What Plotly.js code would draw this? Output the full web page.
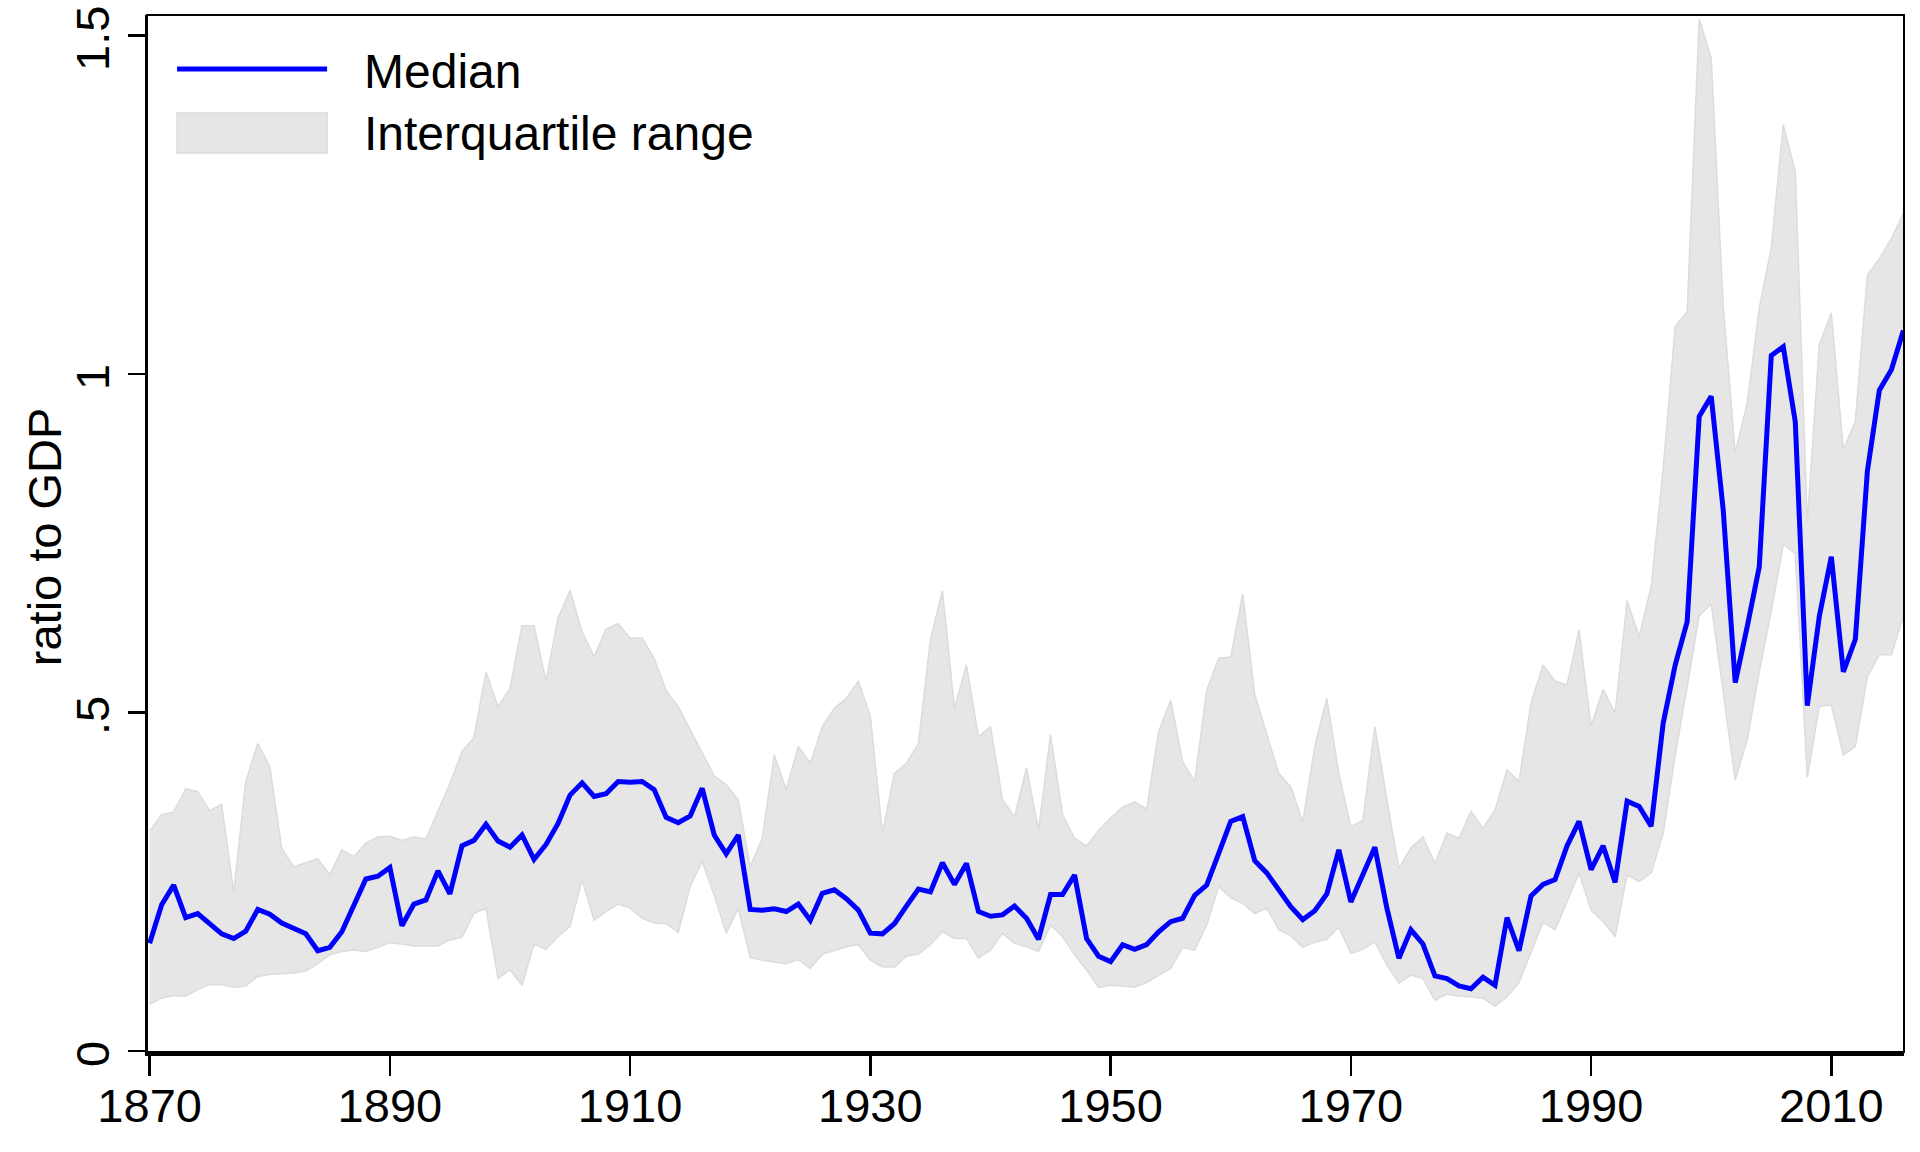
<!DOCTYPE html>
<html>
<head>
<meta charset="utf-8">
<script src="https://cdn.plot.ly/plotly-3.0.1.min.js"></script>
<style>
  html, body { margin: 0; padding: 0; background: #fff; }
  #chart { width: 1920px; height: 1152px; }
</style>
</head>
<body>
<div id="chart"></div>
<script>
// annual observations 1870-2016
var firstYear = 1870;

var median = [
  0.159, 0.216, 0.245, 0.197, 0.203, 0.188, 0.173, 0.166, 0.177, 0.209,
  0.202, 0.189, 0.181, 0.173, 0.148, 0.153, 0.176, 0.216, 0.254, 0.258,
  0.271, 0.185, 0.217, 0.223, 0.266, 0.232, 0.303, 0.311, 0.335, 0.310,
  0.301, 0.319, 0.283, 0.305, 0.336, 0.378, 0.396, 0.376, 0.380, 0.398,
  0.397, 0.398, 0.386, 0.345, 0.337, 0.347, 0.388, 0.319, 0.291, 0.319,
  0.209, 0.208, 0.210, 0.206, 0.217, 0.193, 0.233, 0.238, 0.225, 0.208,
  0.174, 0.173, 0.188, 0.214, 0.239, 0.235, 0.278, 0.246, 0.277, 0.206,
  0.199, 0.201, 0.214, 0.196, 0.165, 0.231, 0.231, 0.260, 0.166, 0.140,
  0.132, 0.157, 0.150, 0.157, 0.176, 0.191, 0.196, 0.230, 0.245, 0.292,
  0.339, 0.346, 0.281, 0.263, 0.238, 0.213, 0.194, 0.207, 0.232, 0.297,
  0.220, 0.261, 0.301, 0.211, 0.137, 0.179, 0.158, 0.111, 0.107, 0.096,
  0.092, 0.109, 0.097, 0.197, 0.148, 0.229, 0.246, 0.253, 0.303, 0.339,
  0.268, 0.303, 0.249, 0.369, 0.361, 0.332, 0.484, 0.570, 0.634, 0.937,
  0.967, 0.799, 0.544, 0.627, 0.715, 1.027, 1.040, 0.929, 0.510, 0.642,
  0.730, 0.560, 0.608, 0.856, 0.976, 1.006, 1.064
];

var q75 = [
  0.325, 0.349, 0.353, 0.387, 0.383, 0.355, 0.364, 0.234, 0.398, 0.454,
  0.420, 0.299, 0.272, 0.278, 0.284, 0.260, 0.297, 0.287, 0.307, 0.316,
  0.317, 0.311, 0.316, 0.313, 0.353, 0.395, 0.442, 0.463, 0.560, 0.508,
  0.536, 0.628, 0.628, 0.546, 0.640, 0.680, 0.619, 0.582, 0.623, 0.631,
  0.610, 0.610, 0.580, 0.532, 0.509, 0.474, 0.441, 0.406, 0.393, 0.371,
  0.272, 0.314, 0.437, 0.386, 0.450, 0.425, 0.479, 0.506, 0.521, 0.546,
  0.494, 0.322, 0.410, 0.425, 0.454, 0.607, 0.680, 0.506, 0.570, 0.464,
  0.479, 0.371, 0.346, 0.418, 0.326, 0.467, 0.349, 0.314, 0.303, 0.326,
  0.344, 0.360, 0.368, 0.357, 0.472, 0.518, 0.427, 0.398, 0.533, 0.580,
  0.582, 0.675, 0.526, 0.467, 0.410, 0.390, 0.339, 0.450, 0.521, 0.410,
  0.331, 0.341, 0.479, 0.371, 0.270, 0.300, 0.316, 0.277, 0.322, 0.314,
  0.354, 0.329, 0.356, 0.415, 0.398, 0.514, 0.570, 0.546, 0.541, 0.622,
  0.480, 0.534, 0.499, 0.665, 0.612, 0.686, 0.860, 1.070, 1.092, 1.524,
  1.466, 1.100, 0.883, 0.957, 1.097, 1.186, 1.368, 1.299, 0.780, 1.043,
  1.090, 0.888, 0.930, 1.146, 1.170, 1.200, 1.237
];

var q25 = [
  0.069, 0.078, 0.082, 0.081, 0.091, 0.098, 0.098, 0.094, 0.096, 0.110,
  0.113, 0.114, 0.115, 0.118, 0.129, 0.142, 0.147, 0.149, 0.147, 0.153,
  0.160, 0.158, 0.155, 0.155, 0.155, 0.164, 0.168, 0.203, 0.211, 0.107,
  0.120, 0.097, 0.158, 0.150, 0.169, 0.184, 0.253, 0.193, 0.206, 0.217,
  0.211, 0.196, 0.189, 0.188, 0.175, 0.243, 0.280, 0.230, 0.174, 0.211,
  0.138, 0.134, 0.132, 0.129, 0.135, 0.122, 0.143, 0.149, 0.154, 0.157,
  0.134, 0.124, 0.124, 0.140, 0.143, 0.157, 0.176, 0.166, 0.166, 0.137,
  0.149, 0.174, 0.159, 0.154, 0.147, 0.186, 0.169, 0.142, 0.120, 0.094,
  0.097, 0.096, 0.094, 0.101, 0.111, 0.122, 0.153, 0.149, 0.186, 0.243,
  0.226, 0.218, 0.203, 0.211, 0.179, 0.170, 0.153, 0.161, 0.165, 0.183,
  0.144, 0.150, 0.161, 0.127, 0.100, 0.112, 0.107, 0.075, 0.084, 0.081,
  0.080, 0.078, 0.066, 0.080, 0.101, 0.147, 0.190, 0.179, 0.220, 0.263,
  0.208, 0.191, 0.169, 0.260, 0.250, 0.263, 0.321, 0.437, 0.538, 0.643,
  0.660, 0.530, 0.400, 0.460, 0.560, 0.650, 0.748, 0.735, 0.404, 0.509,
  0.511, 0.437, 0.450, 0.553, 0.585, 0.585, 0.642
];

var xTicks = [1870, 1890, 1910, 1930, 1950, 1970, 1990, 2010];
var yTicks = [0, 0.5, 1, 1.5];
var yTickText = ['0', '.5', '1', '1.5'];

var years = [];
for (var i = 0; i < median.length; i++) years.push(firstYear + i);

var font = 'Liberation Sans, Arimo, Arial, sans-serif';
var bandFill = '#e6e6e6';
var bandEdge = '#dcdcdc';

var lower = {
  name: 'p25',
  x: years,
  y: q25,
  type: 'scatter',
  mode: 'lines',
  line: { color: bandEdge, width: 1.5 },
  hoverinfo: 'skip',
  showlegend: false
};

var upper = {
  name: 'Interquartile range',
  x: years,
  y: q75,
  type: 'scatter',
  mode: 'lines',
  fill: 'tonexty',
  fillcolor: bandFill,
  line: { color: bandEdge, width: 1.5 },
  showlegend: false
};

var med = {
  name: 'Median',
  x: years,
  y: median,
  type: 'scatter',
  mode: 'lines',
  line: { color: '#0000ff', width: 5 },
  showlegend: false
};

var data = [lower, upper, med];

var layout = {
  width: 1920,
  height: 1152,
  paper_bgcolor: '#ffffff',
  plot_bgcolor: '#ffffff',
  showlegend: false,
  font: { family: font, size: 47, color: '#000' },
  margin: { l: 147, r: 16, t: 15, b: 100 },
  xaxis: {
    range: [1869.78, 2016.05],
    tickvals: xTicks,
    ticks: 'outside',
    ticklen: 20,
    tickwidth: 2.5,
    tickcolor: '#000',
    showline: true,
    linecolor: '#000',
    linewidth: 3.5,
    showgrid: false,
    zeroline: false,
    ticklabelstandoff: -10,
    tickfont: { size: 47 }
  },
  yaxis: {
    range: [-0.0015, 1.53],
    tickvals: yTicks,
    ticktext: yTickText,
    tickangle: -90,
    ticks: 'outside',
    ticklen: 17,
    tickwidth: 2.5,
    tickcolor: '#000',
    showline: true,
    linecolor: '#000',
    linewidth: 2.5,
    showgrid: false,
    zeroline: false,
    ticklabeloverflow: 'allow',
    ticklabelshift: 10,
    tickfont: { size: 47 }
  },
  shapes: [
    // plot region border
    { type: 'rect', xref: 'paper', yref: 'paper', x0: 0, x1: 1, y0: 0, y1: 1,
      line: { color: '#000', width: 2 }, layer: 'above' },
    // legend keys
    { type: 'line', xref: 'paper', yref: 'paper', x0: 0.0171, x1: 0.1025, y0: 0.9479, y1: 0.9479,
      line: { color: '#0000ff', width: 5 } },
    { type: 'rect', xref: 'paper', yref: 'paper', x0: 0.0171, x1: 0.1025, y0: 0.8669, y1: 0.9055,
      fillcolor: bandFill, line: { color: bandEdge, width: 1.5 } }
  ],
  annotations: [
    // y axis title
    { xref: 'paper', yref: 'paper', x: -0.0583, y: 0.497, xanchor: 'center', yanchor: 'middle',
      textangle: -90, text: 'ratio to GDP', showarrow: false, font: { size: 47, color: '#000' } },
    { xref: 'paper', yref: 'paper', x: 0.1223, y: 0.9455, xanchor: 'left', yanchor: 'middle',
      text: 'Median', showarrow: false, font: { size: 48, color: '#000' } },
    { xref: 'paper', yref: 'paper', x: 0.1223, y: 0.8853, xanchor: 'left', yanchor: 'middle',
      text: 'Interquartile range', showarrow: false, font: { size: 48, color: '#000' } }
  ]
};

var config = {
  displayModeBar: false,
  staticPlot: true
};

Plotly.newPlot('chart', data, layout, config);
</script>
</body>
</html>
